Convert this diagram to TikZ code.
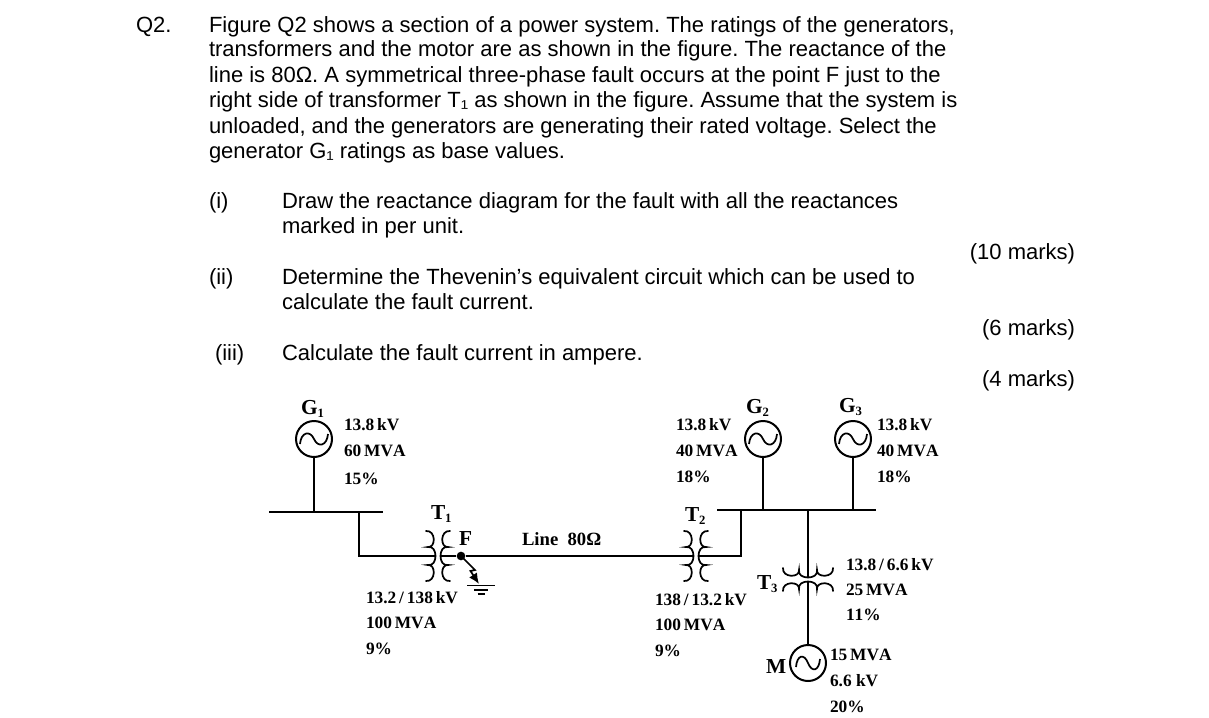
\documentclass[tikz,border=0pt]{standalone}
\usepackage{fontspec}
\setmainfont{Liberation Sans}
\newfontfamily\labelfont{Liberation Serif}[Kerning=Off]
\usetikzlibrary{arrows.meta}
\frenchspacing
\newcommand{\subs}[1]{\raisebox{-0.35ex}{\fontsize{9.5pt}{10pt}\selectfont #1}}
\tikzset{
  x=0.75pt,y=-0.75pt,
  wire/.style={line width=1.5pt,line cap=butt},
  coilline/.style={line width=1.3pt,line cap=round},
  body/.style={anchor=base west,inner sep=0pt,outer sep=0pt,font=\fontsize{16.5pt}{18pt}\selectfont},
  marks/.style={anchor=base east,inner sep=0pt,outer sep=0pt,font=\fontsize{16.5pt}{18pt}\selectfont},
  lab/.style={anchor=base west,inner sep=0pt,outer sep=0pt,font=\labelfont\bfseries\fontsize{13pt}{14pt}\selectfont},
  symb/.style={anchor=base west,inner sep=0pt,outer sep=0pt,font=\labelfont\bfseries\fontsize{16pt}{18pt}\selectfont},
  machine/.style={circle,draw,line width=1.5pt,minimum size=27pt,inner sep=0pt,outer sep=0pt},
  wave/.style={line width=1.3pt},
  vcoil/.pic={
    \draw[coilline] (0,0) .. controls (10,-1) and (10,17) .. (2,16)
      .. controls (12,14) and (12,36) .. (2,34)
      .. controls (10,33) and (10,51) .. (0,50);
    \coordinate (-mid) at (9.5,25);
  },
  hcoil/.pic={
    \draw[coilline] (0,0) .. controls (-1,10) and (17,10) .. (16,2)
      .. controls (14,12) and (36,12) .. (34,2)
      .. controls (33,10) and (51,10) .. (50,0);
    \coordinate (-mid) at (25,9.5);
  },
}
\begin{document}
\begin{tikzpicture}
\useasboundingbox (0,0) rectangle (1209,717);
% question text
\node[body] (q) at (136,32.5) {Q2.};
\node[body] (l1) at (209,32.5) {Figure Q2 shows a section of a power system. The ratings of the generators,};
\node[body] (l2) at (209,57) {transformers and the motor are as shown in the figure. The reactance of the};
\node[body] (l3) at (209,82.5) {line is 80Ω. A symmetrical three-phase fault occurs at the point F just to the};
\node[body] (l4) at (209,107.5) {right side of transformer T₁ as shown in the figure. Assume that the system is};
\node[body] (l5) at (209,133) {unloaded, and the generators are generating their rated voltage. Select the};
\node[body] (l6) at (209,158) {generator G₁ ratings as base values.};
\node[body] (i) at (209,208) {(i)};
\node[body] (i1) at (282,208) {Draw the reactance diagram for the fault with all the reactances};
\node[body] (i2) at (282,233) {marked in per unit.};
\node[marks] (m1) at (1075,259) {(10 marks)};
\node[body] (ii) at (209,284) {(ii)};
\node[body] (ii1) at (282,284) {Determine the Thevenin’s equivalent circuit which can be used to};
\node[body] (ii2) at (282,309) {calculate the fault current.};
\node[marks] (m2) at (1075,335) {(6 marks)};
\node[body] (iii) at (215,360) {(iii)};
\node[body] (iii1) at (282,360) {Calculate the fault current in ampere.};
\node[marks] (m3) at (1075,386) {(4 marks)};
% machines
\node[machine] (G1) at (314,439) {};
\node[machine] (G2) at (763,439) {};
\node[machine] (G3) at (853,439) {};
\node[machine] (M) at (808,663) {};
\foreach \g in {G1,G2,G3}{
  \draw[wave,shift={(\g.center)}] (-14,5) .. controls (-13,-7) and (-4,-9) .. (0,0)
     .. controls (4,9) and (13,7) .. (14,-5);
}
\draw[wave,shift={(M.center)}] (-12,4) .. controls (-11,-8) and (-4,-10) .. (0,0)
     .. controls (4,10) and (11,8) .. (12,-4);
% buses
\coordinate (B1l) at (269,512);
\coordinate (B1r) at (383,512);
\coordinate (B1g) at (314,512);
\coordinate (B1t) at (359,512);
\coordinate (B2l) at (717,510);
\coordinate (B2r) at (876,510);
\coordinate (B2g2) at (763,510);
\coordinate (B2g3) at (853,510);
\coordinate (B2t2) at (741,510);
\coordinate (B2t3) at (808,510);
\draw[wire] (B1l) -- (B1r);
\draw[wire] (B2l) -- (B2r);
\draw[wire] (G1) -- (B1g);
\draw[wire] (G2) -- (B2g2);
\draw[wire] (G3) -- (B2g3);
% transformers
\pic (T1a) at (426,531) {vcoil};
\pic[xscale=-1] (T1b) at (450,531) {vcoil};
\pic (T2a) at (684,531) {vcoil};
\pic[xscale=-1] (T2b) at (708,531) {vcoil};
\pic (T3a) at (783,568) {hcoil};
\pic[yscale=-1] (T3b) at (783,591) {hcoil};
\coordinate (C1) at (359,556);
\coordinate (C2) at (741,556);
\node[circle,fill=black,minimum size=6.5pt,inner sep=0pt] (F) at (461,556) {};
\draw[wire] (B1t) -- (C1) -- (T1a-mid);
\draw[wire] (T1b-mid) -- (F);
\draw[wire] (F) -- (T2a-mid);
\draw[wire] (T2b-mid) -- (C2) -- (B2t2);
\draw[wire] (B2t3) -- (T3a-mid);
\draw[wire] (T3b-mid) -- (M);
% fault
\coordinate (gnd) at (479,584);
\coordinate (z1) at (475,570);
\coordinate (z2) at (470.5,571);
\draw[line width=1.3pt,-{Latex[length=8pt,width=7pt]}] (F.center) -- (z1) -- (z2) -- (gnd);
\coordinate (g1l) at (467,585.5);
\coordinate (g1r) at (495,585.5);
\coordinate (g2l) at (474,590);
\coordinate (g2r) at (488,590);
\coordinate (g3l) at (477.5,594);
\coordinate (g3r) at (484.5,594);
\draw[line width=1.2pt] (g1l) -- (g1r);
\draw[line width=1.2pt] (g2l) -- (g2r);
\draw[line width=1.2pt] (g3l) -- (g3r);
% labels
\node[symb] (tG1) at (301,414) {G\subs{1}};
\node[symb] (tG2) at (746,413) {G\subs{2}};
\node[symb] (tG3) at (839,412) {G\subs{3}};
\node[symb] (tT1) at (431,519) {T\subs{1}};
\node[symb] (tT2) at (685,521) {T\subs{2}};
\node[symb] (tT3) at (757,589) {T\subs{3}};
\node[symb] (tF) at (459,545) {F};
\node[symb] (tM) at (766,673) {M};
\node[lab] (a1) at (344,430) {13.8\,kV};
\node[lab] (a2) at (344,456) {60\,MVA};
\node[lab] (a3) at (344,484) {15\%};
\node[lab] (b1) at (676,430) {13.8\,kV};
\node[lab] (b2) at (676,456) {40\,MVA};
\node[lab] (b3) at (676,482) {18\%};
\node[lab] (c1) at (877,430) {13.8\,kV};
\node[lab] (c2) at (877,456) {40\,MVA};
\node[lab] (c3) at (877,482) {18\%};
\node[lab,font=\labelfont\bfseries\fontsize{14pt}{16pt}\selectfont] (line) at (522,545) {Line\hspace{7pt}80Ω};
\node[lab] (d1) at (366,603) {13.2\,/\,138\,kV};
\node[lab] (d2) at (366,628) {100\,MVA};
\node[lab] (d3) at (366,654) {9\%};
\node[lab] (e1) at (655,605) {138\,/\,13.2\,kV};
\node[lab] (e2) at (655,630) {100\,MVA};
\node[lab] (e3) at (655,656) {9\%};
\node[lab] (f1) at (846,570) {13.8\,/\,6.6\,kV};
\node[lab] (f2) at (846,595) {25\,MVA};
\node[lab] (f3) at (846,620) {11\%};
\node[lab] (h1) at (830,660) {15\,MVA};
\node[lab] (h2) at (830,686) {6.6\ kV};
\node[lab] (h3) at (830,712) {20\%};
\end{tikzpicture}
\end{document}
